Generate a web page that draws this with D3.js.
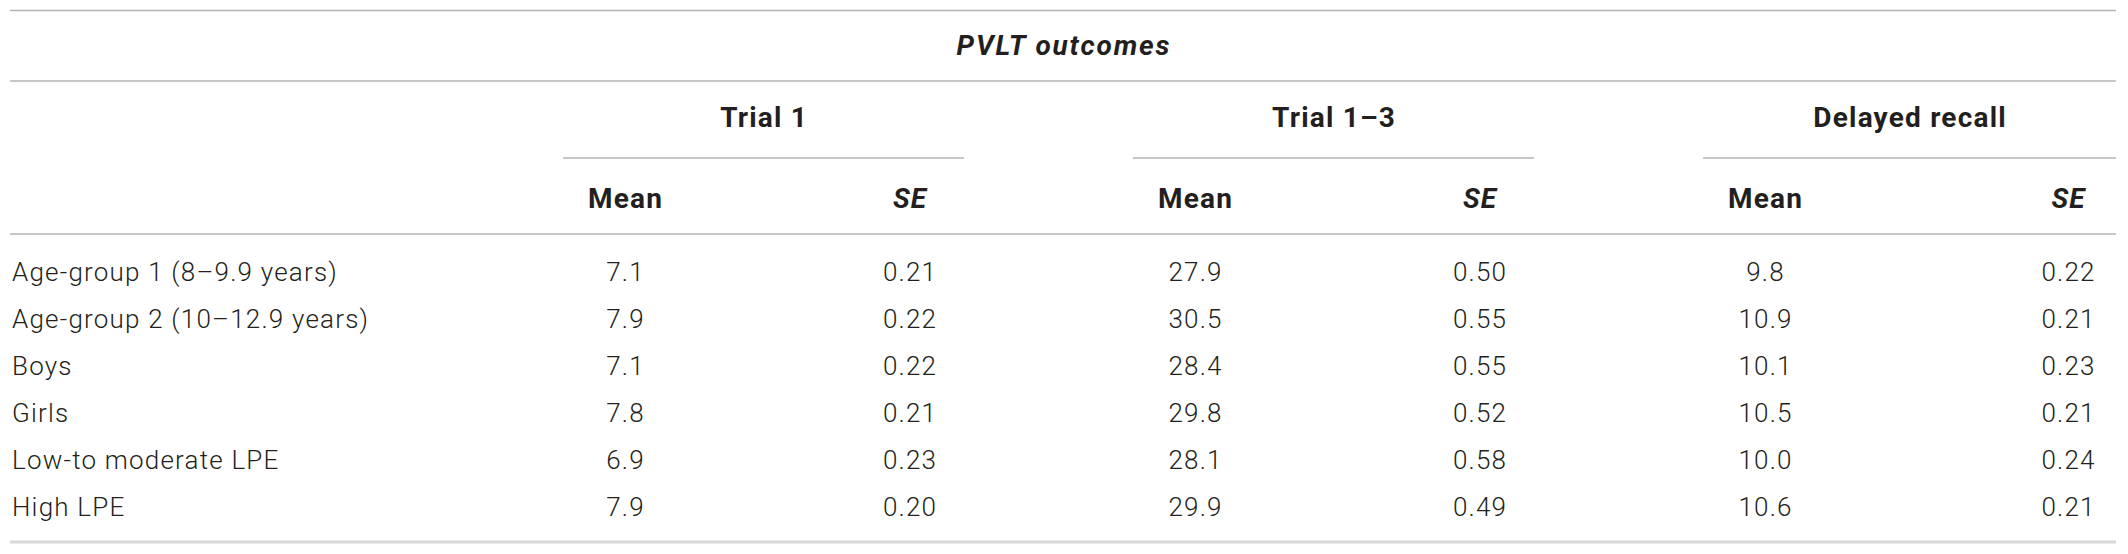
<!DOCTYPE html>
<html>
<head>
<meta charset="utf-8">
<script src="https://cdn.jsdelivr.net/npm/d3@7"></script>
<style>
  html, body { margin: 0; padding: 0; background: #fff; }
  svg text { font-family: Roboto, "Liberation Sans", sans-serif; fill: #231f20; }
  .body { font-size: 26px; font-weight: 300; letter-spacing: 1.2px; }
  .head { font-size: 28px; font-weight: 700; letter-spacing: 1.2px; }
  .title { font-size: 28px; font-weight: 700; font-style: italic; letter-spacing: 1.8px; }
</style>
</head>
<body>
<div id="table"></div>
<script>
const title = "PVLT outcomes";
const groups = ["Trial 1", "Trial 1–3", "Delayed recall"];
const subHeads = ["Mean", "SE"];
const rowLabels = [
  "Age-group 1 (8–9.9 years)",
  "Age-group 2 (10–12.9 years)",
  "Boys",
  "Girls",
  "Low-to moderate LPE",
  "High LPE"
];
const trial1Mean = ["7.1", "7.9", "7.1", "7.8", "6.9", "7.9"];
const trial1SE = ["0.21", "0.22", "0.22", "0.21", "0.23", "0.20"];
const trial13Mean = ["27.9", "30.5", "28.4", "29.8", "28.1", "29.9"];
const trial13SE = ["0.50", "0.55", "0.55", "0.52", "0.58", "0.49"];
const delayedMean = ["9.8", "10.9", "10.1", "10.5", "10.0", "10.6"];
const delayedSE = ["0.22", "0.21", "0.23", "0.21", "0.24", "0.21"];

const columns = [
  { group: groups[0], head: subHeads[0], values: trial1Mean },
  { group: groups[0], head: subHeads[1], values: trial1SE },
  { group: groups[1], head: subHeads[0], values: trial13Mean },
  { group: groups[1], head: subHeads[1], values: trial13SE },
  { group: groups[2], head: subHeads[0], values: delayedMean },
  { group: groups[2], head: subHeads[1], values: delayedSE }
];

const width = 2128, height = 554;
const left = 10, right = 2116;

// table geometry
const groupStart = d3.scaleOrdinal().domain(groups).range([563, 1133, 1703]);
const groupEnd = d3.scaleOrdinal().domain(groups).range([964, 1534, 2116]);
const colX = d3.scaleOrdinal()
  .domain(columns.map(c => c.group + "|" + c.head))
  .range([625, 909.5, 1195, 1479.5, 1765, 2068]);
const rowY = d3.scalePoint().domain(rowLabels).range([281, 516]);

const svg = d3.select("#table").append("svg")
  .attr("width", width)
  .attr("height", height);

// rules
const rule = (y, x1, x2, w, c) => svg.append("line")
  .attr("x1", x1).attr("x2", x2)
  .attr("y1", y).attr("y2", y)
  .attr("stroke", c)
  .attr("stroke-width", w);

rule(10.5, left, right, 1.5, "#b4b4b4");
rule(81, left, right, 1.5, "#b4b4b4");
rule(234, left, right, 1.5, "#b4b4b4");
rule(542, left, right, 3, "#d8d8d8");

svg.selectAll(".group-rule")
  .data(groups)
  .join("line")
  .attr("class", "group-rule")
  .attr("x1", d => groupStart(d))
  .attr("x2", d => groupEnd(d))
  .attr("y1", 158)
  .attr("y2", 158)
  .attr("stroke", "#b4b4b4")
  .attr("stroke-width", 1.5);

// title
svg.append("text")
  .attr("class", "title")
  .attr("x", (left + right) / 2)
  .attr("dx", 0.9)
  .attr("y", 55)
  .attr("text-anchor", "middle")
  .text(title);

// group headers
svg.selectAll(".group-head")
  .data(groups)
  .join("text")
  .attr("class", "head group-head")
  .attr("x", d => (groupStart(d) + groupEnd(d)) / 2)
  .attr("dx", 0.6)
  .attr("y", 127)
  .attr("text-anchor", "middle")
  .text(d => d);

// sub headers
svg.selectAll(".sub-head")
  .data(columns)
  .join("text")
  .attr("class", "head sub-head")
  .attr("x", d => colX(d.group + "|" + d.head))
  .attr("dx", 0.6)
  .attr("y", 208)
  .attr("text-anchor", "middle")
  .style("font-style", d => d.head === "SE" ? "italic" : "normal")
  .text(d => d.head);

// row labels
svg.selectAll(".row-label")
  .data(rowLabels)
  .join("text")
  .attr("class", "body row-label")
  .attr("x", 12)
  .attr("y", d => rowY(d))
  .text(d => d);

// cells
const cols = svg.selectAll(".col")
  .data(columns)
  .join("g")
  .attr("class", "col");

cols.selectAll("text")
  .data(d => d.values.map((v, i) => ({ v, i, key: d.group + "|" + d.head })))
  .join("text")
  .attr("class", "body")
  .attr("x", d => colX(d.key))
  .attr("dx", 0.6)
  .attr("y", d => rowY(rowLabels[d.i]))
  .attr("text-anchor", "middle")
  .text(d => d.v);
</script>
</body>
</html>
